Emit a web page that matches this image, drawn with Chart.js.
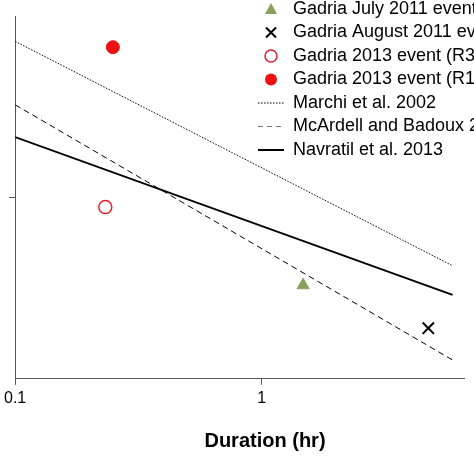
<!DOCTYPE html>
<html><head><meta charset="utf-8">
<script src="https://cdn.jsdelivr.net/npm/chart.js@4"></script>
<style>html,body{margin:0;background:#fff}#wrap{width:474px;height:474px}</style>
</head><body><div id="wrap"><canvas id="c"></canvas></div>
<script>
// --- Data ---
const julyPt = [{ x: 1.47, y: 3.28 }];
const augustPt = [{ x: 4.73, y: 1.90 }];
const r3Pt = [{ x: 0.232, y: 8.84 }];
const r1Pt = [{ x: 0.249, y: 67.3 }];
const lineX = [0.1, 5.93];
const marchiY = [72.5, 4.2];
const mcardellY = [32.4, 1.27];
const navratilY = [21.5, 2.9];
const xTicks = [0.1, 1];
const yTicks = [10];
const xTitle = 'Duration (hr)';

const legendItems = [
  { label: 'Gadria July 2011 event', kind: 'triangle' },
  { label: 'Gadria August 2011 event', kind: 'cross' },
  { label: 'Gadria 2013 event (R3)', kind: 'open' },
  { label: 'Gadria 2013 event (R1)', kind: 'filled' },
  { label: 'Marchi et al. 2002', kind: 'dot' },
  { label: 'McArdell and Badoux 2007', kind: 'dash' },
  { label: 'Navratil et al. 2013', kind: 'solid' }
];

function pts(xs, ys){ return xs.map((x,i)=>({x, y: ys[i]})); }

const legendPlugin = {
  id: 'sideLegend',
  afterDraw(chart){
    const ctx = chart.ctx;
    ctx.save();
    ctx.font = '18px "Liberation Sans", Arial, sans-serif';
    ctx.textBaseline = 'middle';
    legendItems.forEach((it,i)=>{
      const y = 9 + i*23.5, mx = 271;
      ctx.setLineDash([]);
      if(it.kind==='triangle'){
        ctx.fillStyle='#8aa05a'; ctx.beginPath();
        ctx.moveTo(mx,y-6); ctx.lineTo(mx+6,y+5); ctx.lineTo(mx-6,y+5); ctx.fill();
      } else if(it.kind==='cross'){
        ctx.strokeStyle='#000'; ctx.lineWidth=2; ctx.beginPath();
        ctx.moveTo(mx-5,y-5); ctx.lineTo(mx+5,y+5); ctx.moveTo(mx+5,y-5); ctx.lineTo(mx-5,y+5); ctx.stroke();
      } else if(it.kind==='open'){
        ctx.strokeStyle='#e0202a'; ctx.lineWidth=1.5; ctx.beginPath(); ctx.arc(mx,y,6,0,Math.PI*2); ctx.stroke();
      } else if(it.kind==='filled'){
        ctx.fillStyle='#ee1111'; ctx.beginPath(); ctx.arc(mx,y,6,0,Math.PI*2); ctx.fill();
      } else {
        ctx.strokeStyle = it.kind==='dash' ? '#777' : '#000';
        ctx.lineWidth = it.kind==='solid' ? 2 : 1;
        ctx.setLineDash(it.kind==='dot' ? [1.5,1.5] : it.kind==='dash' ? [5,4] : []);
        ctx.beginPath(); ctx.moveTo(258,y); ctx.lineTo(284,y); ctx.stroke();
      }
      ctx.setLineDash([]);
      ctx.fillStyle='#000';
      ctx.fillText(it.label, 293, y);
    });
    // x axis title, centred where the original figure had it
    ctx.font = 'bold 20px "Liberation Sans", Arial, sans-serif';
    ctx.textAlign = 'center';
    ctx.fillText(xTitle, 265, 441);
    ctx.restore();
  }
};

new Chart(document.getElementById('c'), {
  type: 'scatter',
  data: { datasets: [
    { label:'Marchi et al. 2002', type:'line', data: pts(lineX, marchiY), borderColor:'#000', borderWidth:1, borderDash:[1.5,1.5], pointRadius:0 },
    { label:'McArdell and Badoux 2007', type:'line', data: pts(lineX, mcardellY), borderColor:'#000', borderWidth:1, borderDash:[6,4], pointRadius:0 },
    { label:'Navratil et al. 2013', type:'line', data: pts(lineX, navratilY), borderColor:'#000', borderWidth:2, pointRadius:0 },
    { label:'Gadria July 2011 event', data: julyPt, pointStyle:'triangle', pointRadius:7, backgroundColor:'#8aa05a', borderColor:'#8aa05a' },
    { label:'Gadria August 2011 event', data: augustPt, pointStyle:'crossRot', pointRadius:8, borderColor:'#000', borderWidth:2 },
    { label:'Gadria 2013 event (R3)', data: r3Pt, pointRadius:6.5, backgroundColor:'#fff', borderColor:'#e0202a', borderWidth:1.5 },
    { label:'Gadria 2013 event (R1)', data: r1Pt, pointRadius:6.5, backgroundColor:'#ee1111', borderColor:'#ee1111' }
  ]},
  options: {
    responsive:true, maintainAspectRatio:false, animation:false,
    layout:{ padding:{ top:16, left:-4, right:0, bottom:62 } },
    plugins:{ legend:{ display:false }, tooltip:{ enabled:false } },
    scales:{
      x:{ type:'logarithmic', min:0.1, max:6.6,
        afterBuildTicks: s => { s.ticks = xTicks.map(v=>({value:v})); },
        ticks:{ color:'#000', font:{ size:16, family:'"Liberation Sans", Arial' }, callback: v => String(v), maxRotation:0, padding:4 },
        grid:{ drawOnChartArea:false, tickLength:6, color:'#555' }, border:{ color:'#555' } },
      y:{ type:'logarithmic', min:1, max:100,
        afterBuildTicks: s => { s.ticks = yTicks.map(v=>({value:v})); },
        ticks:{ display:false },
        grid:{ drawOnChartArea:false, tickLength:6, color:'#555' }, border:{ color:'#555' } }
    }
  },
  plugins:[legendPlugin]
});
</script></body></html>
